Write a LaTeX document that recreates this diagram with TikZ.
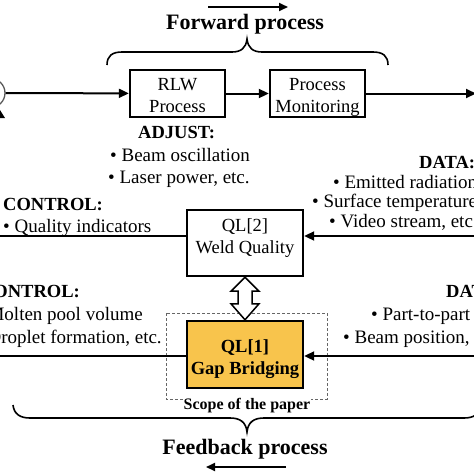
\documentclass[tikz,border=0pt]{standalone}
\usepackage{fontspec}
\setmainfont{Liberation Serif}
\usetikzlibrary{arrows.meta,calc}
\definecolor{goldbox}{RGB}{248,196,76}
\begin{document}
\begin{tikzpicture}[x=1pt,y=-1pt,
  txt/.style={inner sep=0pt,font=\fontsize{19}{22}\selectfont},
  hd/.style={inner sep=0pt,font=\fontsize{18.5}{22}\selectfont\bfseries},
  boxtxt/.style={inner sep=0pt,align=center,font=\fontsize{18.5}{22}\selectfont},
  boxbf/.style={inner sep=0pt,align=center,font=\fontsize{18.5}{22}\selectfont\bfseries},
  titletxt/.style={inner sep=0pt,font=\fontsize{22}{26}\selectfont\bfseries},
  stagebox/.style={draw,line width=2.4pt,inner sep=0pt},
  conn/.style={line width=2pt},
  arr/.style={conn,-{Triangle[length=10pt,width=9pt]}},
  bracestyle/.style={line width=1.6pt},
  dblarrow/.style={line width=1.5pt,fill=white,line join=miter},
]
\useasboundingbox (0,0) rectangle (474,474);
\clip (0,0) rectangle (474,474);

% titles and direction arrows
\node[titletxt,anchor=base] (fwd) at (245,29) {Forward process};
\coordinate (fa1) at (208,7);
\coordinate (fa2) at (288,7);
\draw[arr,-{Triangle[length=9pt,width=8pt]}] (fa1) -- (fa2);
\node[titletxt,anchor=base] (fbk) at (245,454) {Feedback process};
\coordinate (fb1) at (286,467);
\coordinate (fb2) at (206,467);
\draw[arr,-{Triangle[length=9pt,width=8pt]}] (fb1) -- (fb2);

% braces
\draw[bracestyle] (107,65) .. controls (107,56) and (112,52) .. (122,52) -- (232,52)
  .. controls (241,52) and (246,48) .. (247,39)
  .. controls (248,48) and (253,52) .. (262,52) -- (373,52)
  .. controls (383,52) and (388,56) .. (388,65);
\draw[bracestyle] (13,405) .. controls (14,414) and (20,418) .. (30,418) -- (230,418)
  .. controls (240,418) and (246,422) .. (247,432)
  .. controls (248,422) and (254,418) .. (264,418) -- (464,418)
  .. controls (474,418) and (480,414) .. (481,405);

% forward chain
\node[draw=black!65,circle,line width=1.3pt,minimum size=29pt,inner sep=0pt] (sum) at (-9.5,93) {};
\fill (0,110) -- (5,118) -- (0,118) -- cycle;
\node[stagebox,minimum width=95pt,minimum height=47pt] (rlw) at (177.5,93.5) {};
\node[boxtxt] (rlwt) at (177.5,96) {RLW\\Process};
\node[stagebox,minimum width=95pt,minimum height=47pt] (pm) at (317.5,93.5) {};
\node[boxtxt] (pmt) at (317.5,97.5) {Process\\Monitoring};
\coordinate (outR) at (476,93.5);
\draw[arr] (sum) -- (rlw);
\draw[arr] (rlw) -- (pm);
\draw[arr] (pm) -- (outR);

% texts
\node[hd,anchor=base west] (adj) at (138,138.5) {ADJUST:};
\node[txt,anchor=base west] (b1) at (110,161.5) {• Beam oscillation};
\node[txt,anchor=base west] (b2) at (108,183) {• Laser power, etc.};
\node[hd,anchor=base west] (d1) at (419,168) {DATA:};
\node[txt,anchor=base west] (d1a) at (333,188) {• Emitted radiation};
\node[txt,anchor=base west] (d1b) at (312,207) {• Surface temperature};
\node[txt,anchor=base west] (d1c) at (329,227) {• Video stream, etc.};
\node[hd,anchor=base west] (c1) at (3,210) {CONTROL:};
\node[txt,anchor=base west] (c1a) at (3,232) {• Quality indicators};
\node[hd,anchor=base east] (c2) at (80,297) {CONTROL:};
\node[txt,anchor=base west] (c2a) at (-24,320) {• Molten pool volume};
\node[txt,anchor=base west] (c2b) at (-24,343) {• Droplet formation, etc.};
\node[hd,anchor=base west] (d2) at (446,297) {DATA:};
\node[txt,anchor=base west] (d2a) at (371,320) {• Part-to-part gap};
\node[txt,anchor=base west] (d2b) at (343,343) {• Beam position, etc.};

% scope rectangle
\draw[black!60,line width=0.9pt,dash pattern=on 3pt off 2pt] (166,313) rectangle (327,399);
\node[font=\fontsize{16}{18}\selectfont\bfseries,fill=white,inner sep=1pt,anchor=base] (scope) at (247,409) {Scope of the paper};

% quality loops
\node[stagebox,minimum width=116pt,minimum height=66pt] (q2) at (245,243) {};
\node[boxtxt] (q2t) at (245,238.5) {QL[2]\\Weld Quality};
\node[stagebox,fill=goldbox,minimum width=116pt,minimum height=67pt] (q1) at (245,354.5) {};
\node[boxbf] (q1t) at (245,359) {QL[1]\\Gap Bridging};

\coordinate (inR2) at (482,236);
\coordinate (inL2) at (-5,236);
\coordinate (inR1) at (482,356);
\coordinate (inL1) at (-5,356);
\draw[arr] (inR2) -- (inR2 -| q2.east);
\draw[conn] (inL2 -| q2.west) -- (inL2);
\draw[arr] (inR1) -- (inR1 -| q1.east);
\draw[conn] (inL1 -| q1.west) -- (inL1);

% double hollow arrow
\draw[dblarrow] (q2.south) -- ($(q2.south)+(14,14)$) -- ($(q2.south)+(7,14)$)
  -- ($(q1.north)+(7,-16)$) -- ($(q1.north)+(14,-16)$) -- (q1.north)
  -- ($(q1.north)+(-14,-16)$) -- ($(q1.north)+(-7,-16)$)
  -- ($(q2.south)+(-7,14)$) -- ($(q2.south)+(-14,14)$) -- cycle;
\end{tikzpicture}
\end{document}
